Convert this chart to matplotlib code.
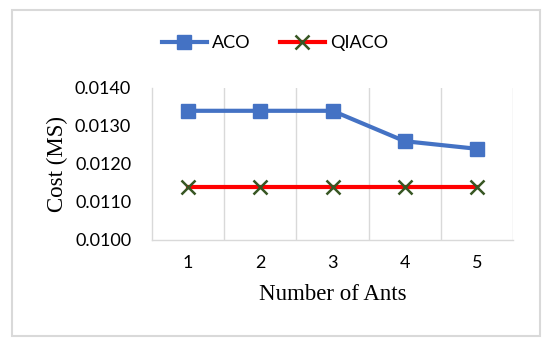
import matplotlib.pyplot as plt
from matplotlib.patches import Rectangle

ants = [1, 2, 3, 4, 5]
aco = [0.0134, 0.0134, 0.0134, 0.0126, 0.0124]
qiaco = [0.0114, 0.0114, 0.0114, 0.0114, 0.0114]
yticks = [0.0100, 0.0110, 0.0120, 0.0130, 0.0140]

fig = plt.figure(figsize=(5.5, 3.47), dpi=100)
ax = fig.add_axes([152 / 550, 1 - 240 / 347, 361 / 550, 152 / 347])

# outer frame like the Excel chart border
fig.patches.append(Rectangle((11.5 / 550, 1 - 336 / 347), 528 / 550, 326 / 347,
                             transform=fig.transFigure, fill=False,
                             edgecolor='#D9D9D9', lw=1.5))

ax.plot(ants, aco, color='#4472C4', lw=3, marker='s', markersize=10.5,
        markerfacecolor='#4472C4', markeredgecolor='#4472C4', label='ACO', zorder=3)
ax.plot(ants, qiaco, color='#FF0000', lw=3, marker='x', markersize=10.5,
        markeredgecolor='#375623', markeredgewidth=1.8, label='QIACO', zorder=3)

ax.set_xlim(0.5, 5.5)
ax.set_ylim(0.0100, 0.0140)
ax.set_xticks(ants)
ax.set_yticks(yticks)
ax.set_yticklabels([f'{v:.4f}' for v in yticks])
for x in [1.5, 2.5, 3.5, 4.5, 5.5]:
    ax.axvline(x, color='#D9D9D9', lw=1, zorder=1)

for s in ['top', 'right']:
    ax.spines[s].set_visible(False)
for s in ['left', 'bottom']:
    ax.spines[s].set_color('#D9D9D9')
    ax.spines[s].set_linewidth(1)

ax.tick_params(length=0)
ax.tick_params(axis='y', pad=15)
ax.tick_params(axis='x', pad=11)
for lab in ax.get_xticklabels() + ax.get_yticklabels():
    lab.set_fontfamily('Lato')
    lab.set_fontsize(13)

ax.set_xlabel('Number of Ants', family='Liberation Serif', fontsize=16.5, labelpad=9)
ax.set_ylabel('Cost (MS)', family='Liberation Serif', fontsize=16.5)
ax.yaxis.set_label_coords((68 - 152) / 361, 0.5)

fig.legend(loc='center', bbox_to_anchor=(0.5, 1 - 43 / 347), ncol=2, frameon=False,
           prop={'family': 'Lato', 'size': 13}, handlelength=2.5, columnspacing=1.6,
           handletextpad=0.3)

fig.savefig('out.png', dpi=100)
